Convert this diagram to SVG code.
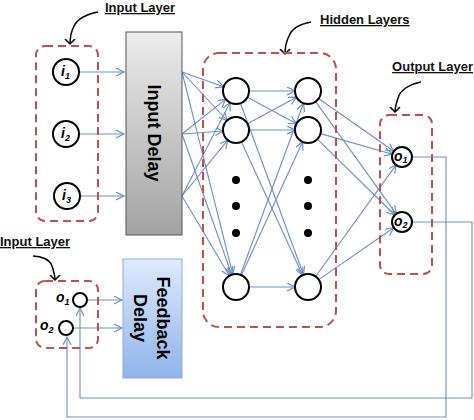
<svg xmlns="http://www.w3.org/2000/svg" width="474" height="420" viewBox="0 0 474 420">
<defs>
<style>
.lbl{font-family:"Liberation Sans",Arial,sans-serif;font-weight:bold;font-size:13px;fill:#111;text-decoration:underline}
.grp{fill:none;stroke:#c0504d;stroke-width:2;stroke-dasharray:8 5}
.node{fill:#fff;stroke:#000;stroke-width:2}
.nt{font-family:"Liberation Sans",Arial,sans-serif;font-weight:bold;font-style:italic;font-size:14px;fill:#000}
.sub{font-size:9px}
.cn{fill:none;stroke:#6b8fc9;stroke-width:1.1;marker-end:url(#ah)}
.fb{fill:none;stroke:#6b8fc9;stroke-width:1.1}
.curl{fill:none;stroke:#000;stroke-width:1.5;marker-end:url(#ck)}
.dot{fill:#000}
.box{font-family:"Liberation Sans",Arial,sans-serif;font-weight:bold;font-size:18px;fill:#000}
</style>
<marker id="ah" markerWidth="10" markerHeight="10" refX="8" refY="4" orient="auto" markerUnits="userSpaceOnUse">
<path d="M0,0 L8,4 L0,8" fill="none" stroke="#6b8fc9" stroke-width="1.2"/>
</marker>
<marker id="ck" markerWidth="12" markerHeight="12" refX="5" refY="6" orient="auto" markerUnits="userSpaceOnUse">
<path d="M0,1 L5,6 L0,11" fill="none" stroke="#000" stroke-width="1.5"/>
</marker>
<linearGradient id="gray" x1="0" y1="0" x2="0" y2="1">
<stop offset="0" stop-color="#ececec"/><stop offset="1" stop-color="#a3a3a3"/>
</linearGradient>
<linearGradient id="blue" x1="0" y1="0" x2="0" y2="1">
<stop offset="0" stop-color="#dfeafc"/><stop offset="1" stop-color="#8fb3ea"/>
</linearGradient>
</defs>
<rect width="474" height="420" fill="#fff"/>

<g id="connectors">
<path class="cn" d="M79,72 H124"/>
<path class="cn" d="M79,134 H124"/>
<path class="cn" d="M80,196 H124"/>
<path class="cn" d="M87,300 H122"/>
<path class="cn" d="M73,328 H122"/>
<path class="cn" d="M182,72 L223.7,86.7"/>
<path class="cn" d="M182,72 L227.1,120.5"/>
<path class="cn" d="M182,72 L232.8,274.4"/>
<path class="cn" d="M182,134 L225.8,99.1"/>
<path class="cn" d="M182,134 L223,131"/>
<path class="cn" d="M182,134 L231.7,274.7"/>
<path class="cn" d="M182,196 L230.1,102.6"/>
<path class="cn" d="M182,196 L227.8,140.1"/>
<path class="cn" d="M182,196 L229.4,275.8"/>
<path class="cn" d="M249,91 L295,91"/>
<path class="cn" d="M247.4,97.2 L296.6,123.8"/>
<path class="cn" d="M240.5,103.2 L303.5,274.8"/>
<path class="cn" d="M247.4,123.8 L296.6,97.2"/>
<path class="cn" d="M249,130 L295,130"/>
<path class="cn" d="M241.4,141.8 L302.6,275.2"/>
<path class="cn" d="M240.5,274.8 L303.5,103.2"/>
<path class="cn" d="M241.4,275.2 L302.6,141.8"/>
<path class="cn" d="M249,287 L295,287"/>
<path class="cn" d="M318.6,98.5 L393.8,151.3"/>
<path class="cn" d="M315.6,101.6 L396.2,213.9"/>
<path class="cn" d="M320.5,133.6 L392.4,154.2"/>
<path class="cn" d="M317.3,139.1 L394.8,215"/>
<path class="cn" d="M315.6,276.5 L396.1,164.9"/>
<path class="cn" d="M318.7,279.6 L393.8,227.7"/>
<path class="fb" d="M412,157 H446 V417 H67 V337" marker-end="url(#ah)"/>
<path class="fb" d="M412,222 H472 V398 H80 V308" marker-end="url(#ah)"/>
<path class="curl" d="M98,12 C88,14 78,18 74,26 C71,32 70,38 70,44"/>
<path class="curl" d="M311,22 C300,24 292,28 289,36 C286,42 285,48 285,54"/>
<path class="curl" d="M421,82 C410,84 400,90 398,98 C396,104 395,108 395,112"/>
<path class="curl" d="M33,256 C42,256 50,260 52,266 C54,272 55,276 55,280"/>
</g>

<g id="input-layer-top">
<text class="lbl" x="105" y="12">Input Layer</text>
<rect class="grp" x="36" y="46" width="62" height="175" rx="9"/>
<g id="i1"><circle class="node" cx="66" cy="72" r="13"/><text class="nt" x="61" y="76">i<tspan class="sub" dy="3">1</tspan></text></g>
<g id="i2"><circle class="node" cx="66" cy="134" r="13"/><text class="nt" x="61" y="138">i<tspan class="sub" dy="3">2</tspan></text></g>
<g id="i3"><circle class="node" cx="67" cy="196" r="13"/><text class="nt" x="62" y="200">i<tspan class="sub" dy="3">3</tspan></text></g>
</g>

<g id="input-delay">
<rect x="126" y="32" width="56" height="203" fill="url(#gray)" stroke="#555" stroke-width="1"/>
<text class="box" transform="translate(154,133) rotate(90)" text-anchor="middle" dominant-baseline="central">Input Delay</text>
</g>

<g id="feedback-delay">
<rect x="123" y="259" width="59" height="119" fill="url(#blue)" stroke="#8aaee0" stroke-width="1"/>
<text class="box" transform="translate(163,318) rotate(90)" text-anchor="middle" dominant-baseline="central">Feedback</text>
<text class="box" transform="translate(140,318) rotate(90)" text-anchor="middle" dominant-baseline="central">Delay</text>
</g>

<g id="input-layer-bottom">
<text class="lbl" x="0" y="246">Input Layer</text>
<rect class="grp" x="36" y="281" width="62" height="67" rx="9"/>
<g id="fo1"><circle class="node" cx="80" cy="300" r="7"/><text class="nt" x="56" y="302">o<tspan class="sub" dy="3">1</tspan></text></g>
<g id="fo2"><circle class="node" cx="66" cy="328" r="7"/><text class="nt" x="40" y="330">o<tspan class="sub" dy="3">2</tspan></text></g>
</g>

<g id="hidden-layers">
<text class="lbl" x="320" y="24">Hidden Layers</text>
<rect class="grp" x="203" y="53" width="133" height="274" rx="16"/>
<g id="h1"><circle class="node" cx="236" cy="91" r="13"/></g>
<g id="h2"><circle class="node" cx="236" cy="130" r="13"/></g>
<g id="h3"><circle class="node" cx="236" cy="287" r="13"/></g>
<g id="g1"><circle class="node" cx="308" cy="91" r="13"/></g>
<g id="g2"><circle class="node" cx="308" cy="130" r="13"/></g>
<g id="g3"><circle class="node" cx="308" cy="287" r="13"/></g>
<circle class="dot" cx="236" cy="180" r="4"/><circle class="dot" cx="236" cy="206" r="4"/><circle class="dot" cx="236" cy="233" r="4"/>
<circle class="dot" cx="308" cy="180" r="4"/><circle class="dot" cx="308" cy="206" r="4"/><circle class="dot" cx="308" cy="233" r="4"/>
</g>

<g id="output-layer">
<text class="lbl" x="473" y="71" text-anchor="end">Output Layer</text>
<rect class="grp" x="380" y="115" width="52" height="159" rx="9"/>
<g id="o1"><circle class="node" cx="402" cy="157" r="10"/><text class="nt" x="394" y="161">o<tspan class="sub" dy="2">1</tspan></text></g>
<g id="o2"><circle class="node" cx="402" cy="222" r="10"/><text class="nt" x="394" y="226">o<tspan class="sub" dy="2">2</tspan></text></g>
</g>
</svg>
